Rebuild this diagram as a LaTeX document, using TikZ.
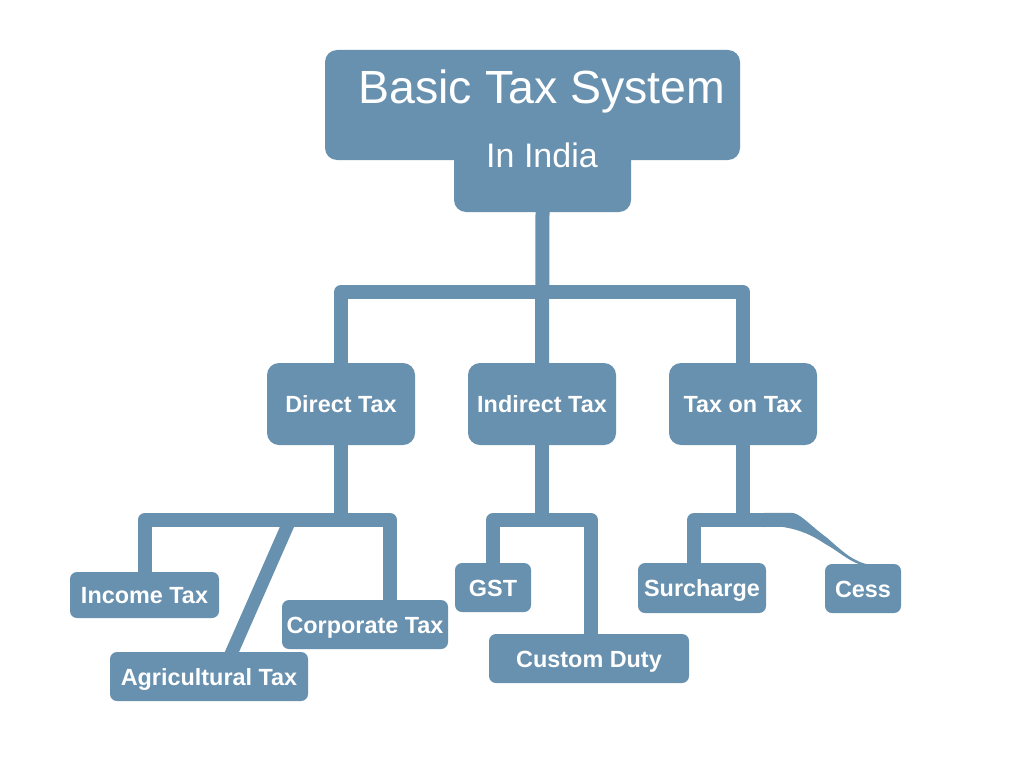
\documentclass[tikz,border=0pt]{standalone}
\usepackage{fontspec}
\setmainfont{Liberation Sans}
\usetikzlibrary{backgrounds,calc}
\definecolor{taxblue}{RGB}{104,144,175}
\begin{document}
\begin{tikzpicture}[x=1pt,y=-1pt,
  box/.style={fill=taxblue, text=white, inner sep=0pt, rounded corners=7pt,
    font=\fontsize{23.4}{26}\selectfont\bfseries, text height=17pt, text depth=0pt, align=center},
  bigbox/.style={box, rounded corners=12pt},
  conn/.style={draw=taxblue, line width=14pt, line join=round, line cap=butt},
  title/.style={text=white, inner sep=0pt, anchor=base}]

\begin{scope}[on background layer]
\fill[white] (0,0) rectangle (1024,768);
\end{scope}
\useasboundingbox (0,0) rectangle (1024,768);

% root
\node[bigbox, minimum width=415pt, minimum height=110pt] (root) at (532.5,105) {};
\node[bigbox, minimum width=177pt, minimum height=72pt] (tab) at (542.5,176) {};
\node[title, font=\fontsize{46.5}{52}\selectfont] (t1) at (542,103) {Basic Tax System};
\node[title, font=\fontsize{34}{40}\selectfont] (t2) at (542,167) {In India};

% level 1
\node[bigbox, minimum width=148pt, minimum height=82pt] (direct) at (341,404) {Direct Tax};
\node[bigbox, minimum width=148pt, minimum height=82pt] (indirect) at (542,404) {Indirect Tax};
\node[bigbox, minimum width=148pt, minimum height=82pt] (taxtax) at (743,404) {Tax on Tax};

% level 2
\node[box, minimum width=149pt, minimum height=46pt] (income) at (144.5,595) {Income Tax};
\node[box, minimum width=166pt, minimum height=49pt] (corporate) at (365,624.5) {Corporate Tax};
\node[box, minimum width=198pt, minimum height=49pt] (agri) at (209,676.5) {Agricultural Tax};
\node[box, minimum width=76pt, minimum height=49pt] (gst) at (493,587.5) {GST};
\node[box, minimum width=200pt, minimum height=49pt] (custom) at (589,658.5) {Custom Duty};
\node[box, minimum width=128pt, minimum height=50pt] (surcharge) at (702,588) {Surcharge};
\node[box, minimum width=76pt, minimum height=49pt] (cess) at (863,588.5) {Cess};

\coordinate (bar) at (542,292);
\coordinate (dj) at (341,520);
\coordinate (aj) at (290,520);
\coordinate (ij) at (542,520);
\coordinate (tj) at (743,520);

\begin{scope}[on background layer]
\draw[conn] (tab.south) -- (indirect.north);
\draw[conn] (direct.north) |- (bar) -| (taxtax.north);

\draw[conn] (direct.south) -- (dj);
\draw[conn] (income.north) |- (dj) -| ([xshift=25pt]corporate.north);
\draw[conn, line width=13pt, shorten <=-6pt] ([xshift=23pt]agri.north) -- (aj);

\draw[conn] (indirect.south) -- (ij);
\draw[conn] (gst.north) |- (ij) -| ([xshift=2pt]custom.north);

\draw[conn] (taxtax.south) -- (tj);
\draw[conn] ([xshift=-8pt]surcharge.north) |- (tj) -- ($(tj)+(30,0)$);
\fill[taxblue] ($(tj)+(20,-7)$) -- ($(cess.north)+(-72,-51)$)
  .. controls ($(cess.north)+(-63,-51)$) and ($(cess.north)+(-55,-40)$) .. ($(cess.north)+(-36,-26)$)
  .. controls ($(cess.north)+(-20,-12)$) and ($(cess.north)+(-10,-2)$) .. ($(cess.north)+(7,1)$)
  -- ($(cess.north)+(-2,1)$)
  .. controls ($(cess.north)+(-15,-3)$) and ($(cess.north)+(-25,-13)$) .. ($(cess.north)+(-38,-20)$)
  .. controls ($(cess.north)+(-50,-28)$) and ($(cess.north)+(-62,-34)$) .. ($(cess.north)+(-81,-37)$)
  -- ($(tj)+(20,7)$) -- cycle;
\end{scope}
\end{tikzpicture}
\end{document}
